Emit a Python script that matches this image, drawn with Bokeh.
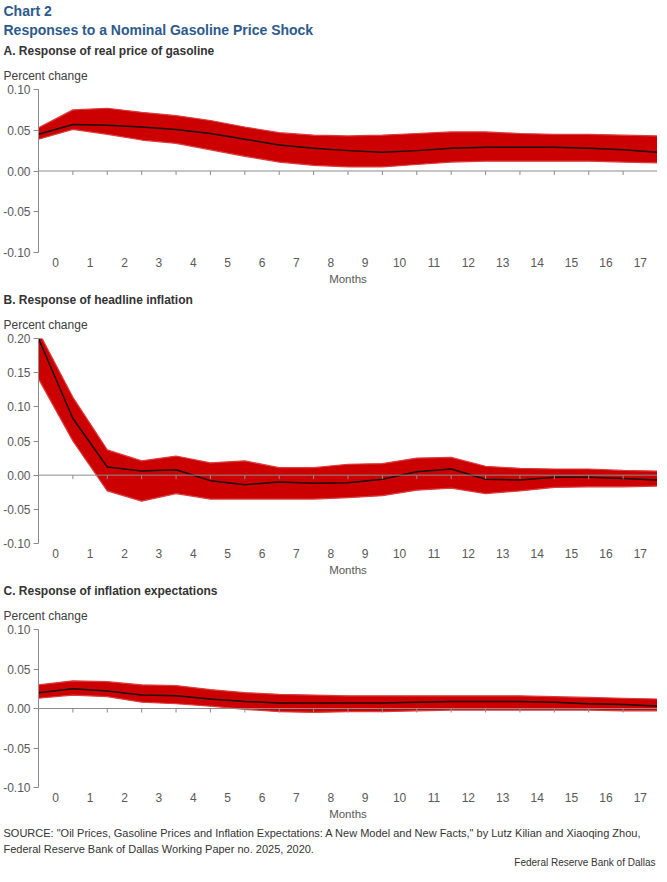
from bokeh.plotting import figure
from bokeh.models import Range1d, FixedTicker, Title, NumeralTickFormatter, Span
from bokeh.layouts import column
from bokeh.embed import file_html
from bokeh.resources import INLINE

# ---------------- data ----------------
horizon = list(range(19))                 # impulse-response horizons (points sit on the month boundaries)
month_labels = list(range(18))            # category labels 0 ... 17

# Panel A: response of real price of gasoline
gas_median = [0.045, 0.057, 0.056, 0.054, 0.051, 0.046, 0.039, 0.032, 0.028, 0.025,
              0.023, 0.025, 0.028, 0.029, 0.029, 0.029, 0.028, 0.026, 0.023]
gas_upper = [0.053, 0.075, 0.077, 0.072, 0.068, 0.062, 0.054, 0.047, 0.044, 0.043,
             0.044, 0.046, 0.048, 0.048, 0.046, 0.045, 0.045, 0.044, 0.043]
gas_lower = [0.039, 0.051, 0.045, 0.038, 0.034, 0.026, 0.018, 0.011, 0.007, 0.005,
             0.005, 0.008, 0.011, 0.012, 0.012, 0.012, 0.012, 0.011, 0.010]

# Panel B: response of headline inflation
inf_median = [0.200, 0.083, 0.012, 0.006, 0.008, -0.008, -0.014, -0.010, -0.012, -0.011,
              -0.006, 0.005, 0.009, -0.006, -0.007, -0.003, -0.003, -0.005, -0.007]
inf_upper = [0.210, 0.114, 0.037, 0.021, 0.028, 0.018, 0.021, 0.011, 0.011, 0.016,
             0.017, 0.025, 0.026, 0.013, 0.010, 0.009, 0.009, 0.007, 0.006]
inf_lower = [0.141, 0.050, -0.023, -0.038, -0.027, -0.035, -0.035, -0.035, -0.035, -0.033,
             -0.030, -0.022, -0.019, -0.027, -0.023, -0.018, -0.017, -0.017, -0.016]

# Panel C: response of inflation expectations
exp_median = [0.020, 0.025, 0.022, 0.017, 0.016, 0.012, 0.009, 0.007, 0.007, 0.007,
              0.007, 0.008, 0.009, 0.009, 0.009, 0.008, 0.006, 0.005, 0.003]
exp_upper = [0.030, 0.035, 0.034, 0.030, 0.029, 0.024, 0.020, 0.018, 0.017, 0.016,
             0.016, 0.016, 0.016, 0.016, 0.016, 0.015, 0.014, 0.013, 0.012]
exp_lower = [0.013, 0.017, 0.015, 0.008, 0.006, 0.003, -0.001, -0.004, -0.005, -0.004,
             -0.004, -0.003, -0.002, -0.002, -0.002, -0.002, -0.002, -0.003, -0.003]

yticks_ac = [-0.10, -0.05, 0.00, 0.05, 0.10]
yticks_b = [-0.10, -0.05, 0.00, 0.05, 0.10, 0.15, 0.20]

chart_number = "Chart 2"
chart_title = "Responses to a Nominal Gasoline Price Shock"
panel_titles = ["A. Response of real price of gasoline",
                "B. Response of headline inflation",
                "C. Response of inflation expectations"]
unit_label = "Percent change"
x_label = "Months"
source_1 = ('SOURCE: "Oil Prices, Gasoline Prices and Inflation Expectations: A New Model and New Facts," '
            'by Lutz Kilian and Xiaoqing Zhou,')
source_2 = "Federal Reserve Bank of Dallas Working Paper no. 2025, 2020."
credit = "Federal Reserve Bank of Dallas"

# ---------------- styling ----------------
RED = "#cc0000"
EDGE = "#dc3c3c"
BLUE = "#2d5a8c"
TXT = "#595959"
DARK = "#333333"
AXIS = "#8c8c8c"
FONT = "Liberation Sans"
FRAME_W = 619
LEFT_SHIFT = -35
TICK_PX = 4

xs = [h - 0.5 for h in horizon]


def add_title(p, text, size, style, color, standoff, where="above", align="left", offset=LEFT_SHIFT):
    p.add_layout(Title(text=text, align=align, offset=offset, text_font=FONT,
                       text_font_size=size, text_font_style=style, text_color=color,
                       standoff=standoff), where)


def make_panel(ylo, yhi, yticks, med, up, lo, frame_h):
    p = figure(frame_width=FRAME_W, frame_height=frame_h,
               x_range=Range1d(-0.5, 17.5), y_range=Range1d(ylo, yhi),
               output_backend="svg", toolbar_location=None, title=None,
               min_border_left=0, min_border_right=0, min_border_top=0, min_border_bottom=0,
               background_fill_color="white", border_fill_color="white")
    p.outline_line_color = None
    p.xgrid.grid_line_color = None
    p.ygrid.grid_line_color = None

    p.varea(x=xs, y1=lo, y2=up, fill_color=RED, fill_alpha=1.0)
    p.line(x=xs, y=up, line_color=EDGE, line_width=1.2)
    p.line(x=xs, y=lo, line_color=EDGE, line_width=1.2)
    p.line(x=xs, y=med, line_color="#1a0a0a", line_width=1.5)

    # zero line with month-boundary tick marks
    p.add_layout(Span(location=0, dimension="width", line_color=AXIS, line_width=1))
    tick_len = TICK_PX * (yhi - ylo) / frame_h
    p.segment(x0=xs, y0=[0] * len(xs), x1=xs, y1=[-tick_len] * len(xs),
              line_color=AXIS, line_width=1)

    # y axis
    ya = p.yaxis[0]
    ya.ticker = FixedTicker(ticks=yticks)
    ya.formatter = NumeralTickFormatter(format="0.00")
    ya.axis_line_color = AXIS
    ya.major_tick_line_color = AXIS
    ya.major_tick_out = 5
    ya.major_tick_in = 0
    ya.minor_tick_line_color = None
    ya.major_label_standoff = 3
    ya.major_label_text_font = FONT
    ya.major_label_text_font_size = "12px"
    ya.major_label_text_color = TXT

    # bottom category labels
    xa = p.xaxis[0]
    xa.ticker = FixedTicker(ticks=month_labels)
    xa.axis_line_color = None
    xa.major_tick_line_color = None
    xa.minor_tick_line_color = None
    xa.major_tick_out = 0
    xa.major_label_standoff = 5
    xa.major_label_text_font = FONT
    xa.major_label_text_font_size = "12px"
    xa.major_label_text_color = TXT
    xa.axis_label = x_label
    xa.axis_label_standoff = 3
    xa.axis_label_text_font = FONT
    xa.axis_label_text_font_size = "11.5px"
    xa.axis_label_text_font_style = "normal"
    xa.axis_label_text_color = TXT
    return p


pA = make_panel(-0.10, 0.10, yticks_ac, gas_median, gas_upper, gas_lower, 163)
add_title(pA, unit_label, "12px", "normal", "#404040", 13)
add_title(pA, panel_titles[0], "12px", "bold", DARK, 6)
add_title(pA, chart_title, "14px", "bold", BLUE, 2)
add_title(pA, chart_number, "14px", "bold", BLUE, 0)

pB = make_panel(-0.10, 0.20, yticks_b, inf_median, inf_upper, inf_lower, 205)
add_title(pB, unit_label, "12px", "normal", "#404040", 13)
add_title(pB, panel_titles[1], "12px", "bold", DARK, 6)

pC = make_panel(-0.10, 0.10, yticks_ac, exp_median, exp_upper, exp_lower, 158)
add_title(pC, unit_label, "12px", "normal", "#404040", 13)
add_title(pC, panel_titles[2], "12px", "bold", DARK, 6)
add_title(pC, source_1, "11px", "normal", DARK, 4, where="below")
add_title(pC, source_2, "11px", "normal", DARK, 0, where="below")
add_title(pC, credit, "10px", "normal", DARK, 0, where="below", align="right", offset=2)

layout = column(pA, pB, pC, spacing=0)
open("out.html", "w").write(file_html(layout, INLINE))
